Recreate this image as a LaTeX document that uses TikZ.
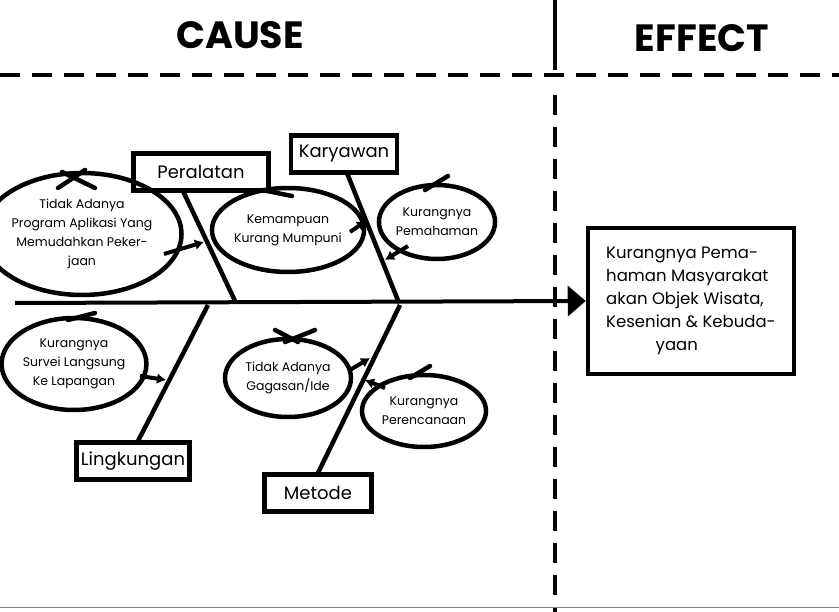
\documentclass[tikz,border=0pt]{standalone}
\usepackage{fontspec}
\setmainfont{Poppins}
\usetikzlibrary{shapes.geometric,arrows.meta}
\begin{document}
\begin{tikzpicture}[x=1pt,y=-1pt,line width=4.5pt,
  catbox/.style={draw,rectangle,minimum width=#1,minimum height=37pt,font=\fontsize{18}{18}\selectfont,inner sep=2pt},
  bubble/.style={draw,ellipse,align=center,font=\fontsize{12.5}{19}\selectfont,inner sep=0pt},
  tie/.style={line width=4.5pt,line cap=round},
  conn/.style={line width=4pt,-{Latex[length=9pt,width=11pt]}},
  bigdash/.style={line width=4pt,dash pattern=on 20pt off 12pt}]
\useasboundingbox (0,0) rectangle (839,612);
\fill[white] (0,0) rectangle (839,612);
\node[font=\fontsize{38}{38}\selectfont\bfseries] (cause) at (240,35) {CAUSE};
\node[font=\fontsize{38}{38}\selectfont\bfseries] (effect) at (702,38) {EFFECT};
\draw[bigdash] (0,75) -- (839,75);
\draw[line width=4pt] (555,0) -- (555,70);
\draw[bigdash] (555,95) -- (555,612);
\draw[line width=1pt,gray] (0,607) -- (839,607);
% effect
\node[draw,rectangle,minimum width=206pt,minimum height=146pt,align=left,font=\fontsize{16.5}{23}\selectfont,inner sep=3pt] (eff) at (691,301) {Kurangnya Pema-\\haman Masyarakat\\akan Objek Wisata,\\Kesenian \& Kebuda-\\\hspace*{3em}yaan};
\coordinate (tail) at (15,303);
\draw[line width=4pt,-{Triangle[length=18pt,width=30pt]}] (tail) -- (eff.west);
% categories
\node[catbox=135pt] (per) at (201,172) {Peralatan};
\node[catbox=106pt] (kar) at (344,154) {Karyawan};
\node[catbox=113pt] (lin) at (133,461) {Lingkungan};
\node[catbox=107pt] (met) at (318,493) {Metode};
\coordinate (pb) at (236,303); \coordinate (kb) at (399,303);
\coordinate (lb) at (208,305); \coordinate (mb) at (400,305);
\coordinate (ps) at (183,191); \coordinate (ks) at (347,173);
\coordinate (ls) at (137,443); \coordinate (ms) at (317,475);
\draw (ps) -- (pb);
\draw (ks) -- (kb);
\draw (ls) -- (lb);
\draw (ms) -- (mb);
% bubbles
\node[bubble,minimum width=170pt,minimum height=122pt] (b1) at (82,234) {Tidak Adanya\\Program Aplikasi Yang\\Memudahkan Peker-\\jaan};
\node[bubble,minimum width=128pt,minimum height=84pt] (b2) at (288,230) {Kemampuan\\Kurang Mumpuni};
\node[bubble,minimum width=98pt,minimum height=74pt] (b3) at (437,222) {Kurangnya\\Pemahaman};
\node[bubble,minimum width=134pt,minimum height=92pt] (b4) at (74,364) {Kurangnya\\Survei Langsung\\Ke Lapangan};
\node[bubble,minimum width=126pt,minimum height=78pt] (b5) at (288,378) {Tidak Adanya\\Gagasan/Ide};
\node[bubble,minimum width=124pt,minimum height=72pt] (b6) at (424,411) {Kurangnya\\Perencanaan};
% ties
\draw[tie] (58,188) -- (85,170);
\draw[tie] (62,172) -- (95,188);
\draw[tie] (262,190) -- (292,196);
\draw[tie] (425,190) -- (448,176);
\draw[tie] (68,320) -- (95,313);
\draw[tie] (275,330) -- (298,342);
\draw[tie] (285,342) -- (315,330);
\draw[tie] (410,378) -- (430,366);
% connectors
\draw[conn] (164,254) -- (204,242);
\draw[conn] (350,232) -- (366,221);
\draw[conn] (408,246) -- (385,260);
\draw[conn] (140,376) -- (166,380);
\draw[conn] (350,370) -- (370,358);
\draw[conn] (385,388) -- (365,380);
\end{tikzpicture}
\end{document}
